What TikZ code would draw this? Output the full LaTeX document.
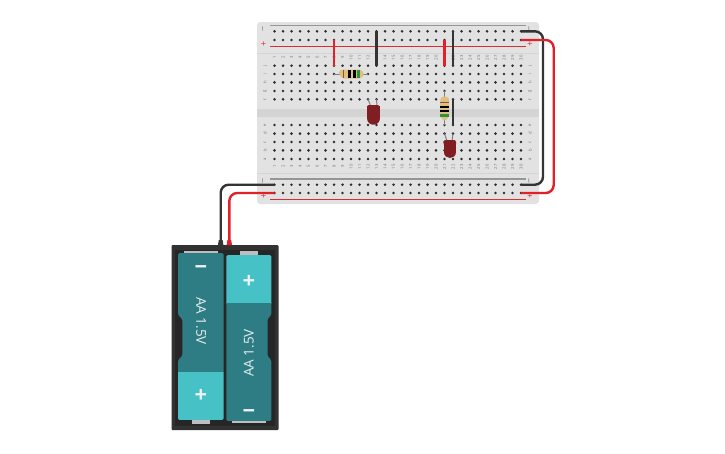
\documentclass[tikz,border=0pt]{standalone}
\usepackage{fontspec}
\setmainfont{Open Sans}
\usetikzlibrary{positioning}
\definecolor{boardgray}{RGB}{226,226,226}
\definecolor{channelgray}{RGB}{212,212,212}
\definecolor{railgray}{RGB}{150,150,150}
\definecolor{railred}{RGB}{214,46,50}
\definecolor{holedark}{RGB}{45,45,45}
\definecolor{wireblack}{RGB}{52,52,52}
\definecolor{wirered}{RGB}{226,32,40}
\definecolor{ledred}{RGB}{128,30,36}
\definecolor{bodytan}{RGB}{226,190,128}
\definecolor{bandgreen}{RGB}{40,150,60}
\definecolor{holderdark}{RGB}{50,50,50}
\definecolor{holderinner}{RGB}{38,38,38}
\definecolor{cellteal}{RGB}{46,125,132}
\definecolor{celllight}{RGB}{70,193,198}
\definecolor{tabgray}{RGB}{190,190,190}
\tikzset{
    hole/.style={circle,fill=holedark,inner sep=0pt,minimum size=2.9pt},
    boardlabel/.style={font=\fontsize{4.2}{4.2}\selectfont,text=black!55,rotate=90,inner sep=0pt},
    railsign/.style={font=\fontsize{9}{9}\selectfont,rotate=90,inner sep=0pt},
    jumper/.style={line width=2.4pt},
    wire/.style={line width=2.4pt,rounded corners=8pt},
    lead/.style={line width=1pt,color=gray},
    celltext/.style={font=\fontsize{13.5}{13.5}\selectfont,text=white!88!cellteal,inner sep=0pt},
    cellsign/.style={font=\fontsize{22}{22}\selectfont\bfseries,text=white!90!cellteal,inner sep=0pt}
}
\begin{document}
\begin{tikzpicture}[x=1pt,y=-1pt]
    \useasboundingbox (0,0) rectangle (725,453);
    % breadboard
    \fill[boardgray,rounded corners=3pt] (257,22) rectangle (539,204);
    \fill[channelgray] (257,109) rectangle (539,117);
    \draw[channelgray,line width=0.7pt] (257,53) -- (539,53);
    \draw[channelgray,line width=0.7pt] (257,173) -- (539,173);
    \draw[railgray,line width=1.3pt] (270,25.7) -- (526,25.7);
    \draw[railred,line width=0.8pt] (270,46.3) -- (526,46.3);
    \draw[railgray,line width=1.3pt] (270,179) -- (526,179);
    \draw[railred,line width=0.8pt] (270,199.3) -- (526,199.3);
    \foreach \row/\ypos in {tm/31.3,tp/40,j/65.7,i/74,h/82.4,g/91,f/99.3,e/125,d/133.6,c/142,b/150.4,a/159,bm/184.7,bp/193}
        \foreach \col in {1,...,30}
            \node[hole] (\row\col) at ({274.5+(\col-1)*8.5},\ypos) {};
    \foreach \col in {1,...,30} {
        \node[boardlabel] (numt\col) at ({274.5+(\col-1)*8.5},57.7) {\col};
        \node[boardlabel] (numb\col) at ({274.5+(\col-1)*8.5},166.7) {\col};
    }
    \foreach \row/\ypos in {j/65.7,i/74,h/82.4,g/91,f/99.3,e/125,d/133.6,c/142,b/150.4,a/159} {
        \node[boardlabel] (letl\row) at (265,\ypos) {\row};
        \node[boardlabel] (letr\row) at (530,\ypos) {\row};
    }
    \node[railsign,text=black!55] (mtl) at (264,29) {\textminus};
    \node[railsign,text=railred] (ptl) at (264,44) {+};
    \node[railsign,text=black!55] (mtr) at (530.5,29) {\textminus};
    \node[railsign,text=railred] (ptr) at (530.5,44) {+};
    \node[railsign,text=black!55] (mbl) at (264,181) {\textminus};
    \node[railsign,text=railred] (pbl) at (264,196) {+};
    \node[railsign,text=black!55] (mbr) at (530.5,181) {\textminus};
    \node[railsign,text=railred] (pbr) at (530.5,196) {+};

    % jumpers on the board
    \draw[jumper,wirered] (tp8.center) -- (j8.center);
    \draw[jumper,wireblack] (tm13.center) -- (j13.center);
    \draw[jumper,wirered] (tp21.center) -- (j21.center);
    \draw[jumper,wireblack] (tm22.center) -- (j22.center);
    \draw[jumper,wireblack] (f22.center) -- (e22.center);

    % resistors
    \draw[lead] (i8.center) -- (i12.center);
    \fill[bodytan,rounded corners=2.5pt] (339,71) -- (342,69.5) -- (361,69.5) -- (364.5,74) -- (361,78.5) -- (342,78.5) -- (339,74) -- cycle;
    \fill[brown!70!black] (343.2,70) rectangle (344.2,78);
    \fill[black] (348,70) rectangle (350.6,78);
    \fill[black] (353,70) rectangle (355.6,78);
    \fill[bandgreen] (357.4,70) rectangle (360,78);
    \draw[lead] (g21.center) -- (e21.center);
    \fill[bodytan,rounded corners=2.5pt] (440.2,100) -- (441.5,96.5) -- (447.9,96.5) -- (449.2,100) -- (449.2,116) -- (447.9,118) -- (444.7,121.5) -- (441.5,118) -- (440.2,116) -- cycle;
    \fill[brown!70!black] (440.4,101.5) rectangle (449,102.5);
    \fill[black] (440.4,105.7) rectangle (449,108);
    \fill[black] (440.4,109.8) rectangle (449,112);
    \fill[bandgreen] (440.4,114) rectangle (449,116.8);

    % leds
    \coordinate (ledaleg) at (370.7,106);
    \coordinate (ledbleg) at (377,106);
    \draw[lead] (f12.center) -- (ledaleg);
    \draw[lead] (f13.center) -- (ledbleg);
    \fill[ledred] (367,106) rectangle (379.5,118);
    \fill[ledred,rounded corners=2pt] (367,110) -- (367,105) -- (379.5,105) -- (379.5,110) -- cycle;
    \fill[ledred] (379.5,118) .. controls (379.5,126.5) and (367,126.5) .. (367,118) -- cycle;
    \coordinate (ledcleg) at (447,141);
    \coordinate (leddleg) at (452,141);
    \draw[lead] (d21.center) -- (ledcleg);
    \draw[lead] (d22.center) -- (leddleg);
    \fill[ledred] (443.7,142) rectangle (456,151.5);
    \fill[ledred,rounded corners=2pt] (443.7,146) -- (443.7,140) -- (456,140) -- (456,146) -- cycle;
    \fill[ledred] (456,151.5) .. controls (456,159.8) and (443.7,159.8) .. (443.7,151.5) -- cycle;

    % battery holder
    \fill[holderdark,rounded corners=1pt] (171.5,245) rectangle (278.5,430);
    \fill[holderinner] (175,249.5) rectangle (275,426);
    \fill[tabgray] (184,251.3) rectangle (217.7,254);
    \fill[tabgray] (240,251) rectangle (258,256);
    \fill[tabgray] (191.7,419) rectangle (210,423.6);
    \fill[tabgray] (232,420) rectangle (265.7,422.6);

    \begin{scope}
        \clip[rounded corners=1.5pt] (178,253) -- (223.7,253) -- (223.7,420) -- (178,420) -- (178,360) -- (182.3,356) -- (182.3,319) -- (178,315) -- cycle;
        \fill[cellteal] (178,253) rectangle (224,372);
        \fill[celllight] (178,371.5) rectangle (224,420);
    \end{scope}
    \begin{scope}
        \clip[rounded corners=1.5pt] (226.3,255) -- (271.3,255) -- (271.3,315) -- (267.5,319) -- (267.5,356) -- (271.3,360) -- (271.3,421) -- (226.3,421) -- cycle;
        \fill[celllight] (226,255) rectangle (272,303.5);
        \fill[cellteal] (226,303) rectangle (272,421);
    \end{scope}
    \node[cellsign] (cellaminus) at (201,270) {\textminus};
    \node[cellsign] (cellaplus) at (201,396) {+};
    \node[celltext,rotate=-90] (cellatext) at (201,321) {AA 1.5V};
    \node[cellsign] (cellbplus) at (249,282) {+};
    \node[cellsign] (cellbminus) at (249,414) {\textminus};
    \node[celltext,rotate=90] (cellbtext) at (249,353) {AA 1.5V};

    % battery leads
    \fill[wireblack] (218,245) -- (218.8,240) -- (222.6,240) -- (223.4,245) -- cycle;
    \fill[wirered] (226.6,245) -- (227.4,240) -- (231.2,240) -- (232,245) -- cycle;
    \coordinate (blackclip) at (220.7,240);
    \coordinate (redclip) at (229.3,240);
    \draw[wire,wireblack] (blackclip) |- (bm1.center);
    \draw[wire,wirered] (redclip) |- (bp1.center);

    % power rails to the top of the board
    \coordinate (blackturn) at (543,60);
    \coordinate (redturn) at (553.7,60);
    \draw[wire,wireblack] (tm30.center) -| (blackturn) |- (bm30.center);
    \draw[wire,wirered] (tp30.center) -| (redturn) |- (bp30.center);
\end{tikzpicture}
\end{document}
